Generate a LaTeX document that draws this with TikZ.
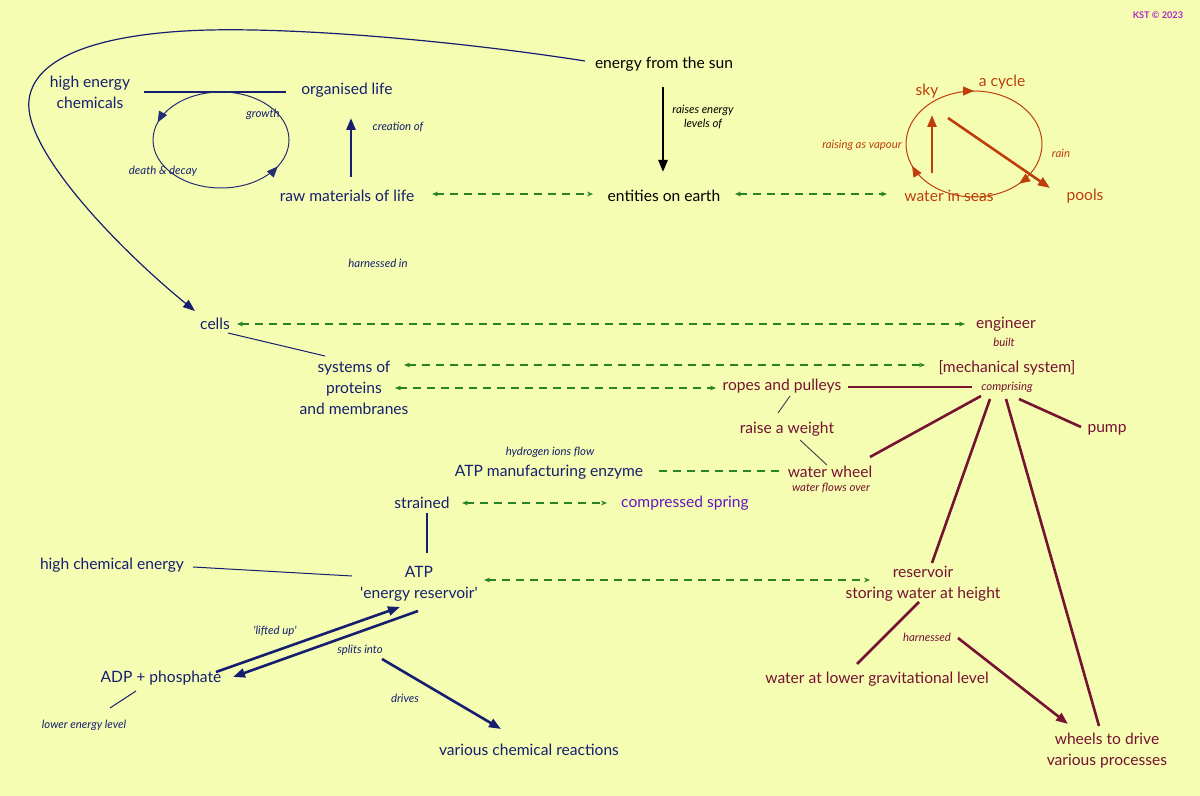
\documentclass[tikz,border=0pt]{standalone}
\usepackage{fontspec}
\setmainfont{Lato}
\usepackage{tikz}
\usetikzlibrary{arrows.meta,decorations.markings}
\definecolor{paleyellow}{RGB}{245,253,178}
\definecolor{lifeblue}{RGB}{22,30,112}
\definecolor{machred}{RGB}{118,18,50}
\definecolor{waterred}{RGB}{190,62,12}
\definecolor{linkgreen}{RGB}{40,130,40}
\definecolor{springviolet}{RGB}{100,22,200}
\definecolor{markpink}{RGB}{175,40,195}

\begin{document}
\begin{tikzpicture}[x=0.5pt,y=-0.5pt,
  txt/.style={font=\fontsize{7.8}{10.5}\selectfont,inner sep=1pt,align=center},
  note/.style={font=\fontsize{5.7}{6.7}\selectfont\itshape,inner sep=1pt,align=center},
  link/.style={linkgreen,line width=0.6pt,dash pattern=on 4pt off 3pt},
  heavy/.style={line width=1.3pt},
  fine/.style={line width=0.5pt},
  tip/.style={-{Triangle[length=6pt,width=4.5pt]}},
  twotip/.style={{Stealth[length=3pt,width=2.4pt]}-{Stealth[length=3pt,width=2.4pt]}}]
 \fill[paleyellow] (0,0) rectangle (1200,796);
 \node[txt,markpink,font=\fontsize{4.6}{5}\selectfont\bfseries] (kst) at (1158,15) {KST © 2023};

 % sun and earth
 \node[txt] (sun) at (664,64) {energy from the sun};
 \node[note] (raises) at (703,117) {raises energy\\levels of};
 \node[txt] (earth) at (664,196) {entities on earth};
 \draw[heavy,tip] ([shift={(-1,23)}]sun.center) -- ([shift={(-1,-24)}]earth.center);

 % life
 \node[txt,lifeblue] (hec) at (90,92) {high energy\\chemicals};
 \node[txt,lifeblue] (life) at (347,90) {organised life};
 \node[note,lifeblue] (growth) at (263,114) {growth};
 \node[note,lifeblue] (decay) at (163,171) {death \& decay};
 \node[txt,lifeblue] (raw) at (347,196) {raw materials of life};
 \node[note,lifeblue] (creation) at (398,127) {creation of};
 \node[note,lifeblue] (harnin) at (378,263) {harnessed in};
 \draw[lifeblue,heavy] ([shift={(54,0)}]hec.center) -- ([shift={(-61,2)}]life.center);
 \draw[lifeblue!85!gray,fine,postaction={decorate},decoration={markings,
   mark=at position 0.08 with {\arrowreversed{Triangle[length=5.5pt,width=4.5pt]}},
   mark=at position 0.55 with {\arrowreversed{Triangle[length=5.5pt,width=4.5pt]}}}]
   (221,140) ellipse [x radius=68,y radius=48];
 \draw[lifeblue,heavy,tip] ([shift={(4,-19)}]raw.center) -- ([shift={(4,28)}]life.center);

 % water cycle
 \node[txt,waterred] (seas) at (949,196) {water in seas};
 \node[txt,waterred] (sky) at (927,91) {sky};
 \node[txt,waterred] (cycle) at (1002,82) {a cycle};
 \node[txt,waterred] (pools) at (1085,196) {pools};
 \node[note,waterred] (vapour) at (862,145) {raising as vapour};
 \node[note,waterred] (rain) at (1061,153) {rain};
 \draw[waterred,fine,postaction={decorate},decoration={markings,
   mark=at position 0.125 with {\arrow{Triangle[length=5.5pt,width=4.5pt]}},
   mark=at position 0.44 with {\arrow{Triangle[length=5.5pt,width=4.5pt]}},
   mark=at position 0.75 with {\arrow{Triangle[length=5.5pt,width=4.5pt]}}}]
   (974,144) ellipse [x radius=68,y radius=53];
 \draw[waterred,heavy,tip] ([shift={(-17,-23)}]seas.center) -- ([shift={(5,24)}]sky.center);
 \draw[waterred,heavy,tip] ([shift={(21,27)}]sky.center) -- ([shift={(-35,-8)}]pools.center);

 \draw[link,twotip] ([shift={(85,-2)}]raw.center) -- ([shift={(-71,-2)}]earth.center);
 \draw[link,twotip] ([shift={(71,-2)}]earth.center) -- ([shift={(-62,-2)}]seas.center);

 % cells and machines
 \node[txt,lifeblue] (cells) at (215,324) {cells};
 \node[txt,machred] (eng) at (1006,324) {engineer};
 \node[note,machred] (built) at (1004,342) {built};
 \node[txt,lifeblue] (prot) at (354,388) {systems of\\proteins\\and membranes};
 \node[txt,machred] (mech) at (1007,368) {[mechanical system]};
 \node[note,machred] (comp) at (1007,387) {comprising};
 \node[txt,machred] (ropes) at (782,386) {ropes and pulleys};
 \node[txt,machred] (weight) at (787,429) {raise a weight};
 \node[txt,machred] (wheel) at (830,472) {water wheel};
 \node[note,machred] (flows) at (831,488) {water flows over};
 \node[txt,machred] (pump) at (1107,430) {pump};
 \node[note,lifeblue] (hions) at (550,452) {hydrogen ions flow};
 \node[txt,lifeblue] (enzyme) at (549,472) {ATP manufacturing enzyme};
 \node[txt,lifeblue] (strained) at (422,503) {strained};
 \node[txt,springviolet] (spring) at (685,503) {compressed spring};

 \draw[lifeblue,line width=0.6pt,-{Triangle[length=6pt,width=4.5pt]}]
   ([shift={(-79,-3)}]sun.center) .. controls (450,40) and (300,28) .. (210,30)
   .. controls (120,32) and (35,50) .. (29,100)
   .. controls (23,150) and (120,250) .. ([shift={(-20,-13)}]cells.center);
 \draw[link,twotip] ([shift={(22,0)}]cells.center) -- ([shift={(-41,0)}]eng.center);
 \draw[lifeblue,fine] ([shift={(13,9)}]cells.center) -- ([shift={(-29,-32)}]prot.center);
 \draw[link,twotip] ([shift={(50,-23)}]prot.center) -- ([shift={(-82,-3)}]mech.center);
 \draw[link,twotip] ([shift={(41,0)}]prot.center) -- ([shift={(-66,2)}]ropes.center);
 \draw[machred,heavy] ([shift={(66,1)}]ropes.center) -- ([shift={(-35,0)}]comp.center);
 \draw[gray!60!black,fine] ([shift={(8,10)}]ropes.center) -- ([shift={(-9,-16)}]weight.center);
 \draw[gray!60!black,fine] ([shift={(13,11)}]weight.center) -- ([shift={(-3,-7)}]wheel.center);
 \draw[machred,heavy] ([shift={(-26,9)}]comp.center) -- ([shift={(40,-15)}]wheel.center);
 \draw[machred,heavy] ([shift={(12,12)}]comp.center) -- ([shift={(-26,-3)}]pump.center);
 \draw[link] ([shift={(110,-1)}]enzyme.center) -- ([shift={(-46,-1)}]wheel.center);
 \draw[link,twotip] ([shift={(40,0)}]strained.center) -- ([shift={(-78,0)}]spring.center);

 % ATP and reservoir
 \node[txt,lifeblue] (hce) at (112,565) {high chemical energy};
 \node[txt,lifeblue] (atp) at (419,584) {ATP\\\textquotesingle energy reservoir\textquotesingle};
 \node[txt,machred] (res) at (923,584) {reservoir\\storing water at height};
 \node[txt,machred] (lower) at (877,679) {water at lower gravitational level};
 \node[txt,machred] (wheels) at (1107,751) {wheels to drive\\various processes};
 \node[note,machred] (harnessed) at (927,637) {harnessed};
 \node[txt,lifeblue] (adp) at (161,678) {ADP + phosphate};
 \node[note,lifeblue] (lowlev) at (84,725) {lower energy level};
 \node[note,lifeblue] (lifted) at (275,631) {\textquotesingle lifted up\textquotesingle};
 \node[note,lifeblue] (splits) at (360,650) {splits into};
 \node[note,lifeblue] (drives) at (405,698) {drives};
 \node[txt,lifeblue] (reactions) at (529,750) {various chemical reactions};

 \draw[machred,heavy] ([shift={(-17,12)}]comp.center) -- ([shift={(9,-21)}]res.center);
 \draw[machred,heavy] ([shift={(-1,12)}]comp.center) -- ([shift={(-8,-25)}]wheels.center);
 \draw[lifeblue,heavy] ([shift={(5,10)}]strained.center) -- ([shift={(8,-31)}]atp.center);
 \draw[lifeblue,fine] ([shift={(81,2)}]hce.center) -- ([shift={(-67,-8)}]atp.center);
 \draw[link,twotip] ([shift={(65,-4)}]atp.center) -- ([shift={(-53,-4)}]res.center);
 \draw[lifeblue,heavy,tip] ([shift={(55,-6)}]adp.center) -- ([shift={(-19,23)}]atp.center);
 \draw[lifeblue,heavy,tip] ([shift={(-1,27)}]atp.center) -- ([shift={(72,-1)}]adp.center);
 \draw[lifeblue,heavy,tip] ([shift={(22,9)}]splits.center) -- ([shift={(-28,-21)}]reactions.center);
 \draw[lifeblue,fine] ([shift={(-25,13)}]adp.center) -- ([shift={(26,-17)}]lowlev.center);
 \draw[machred,heavy] ([shift={(-4,18)}]res.center) -- ([shift={(-20,-15)}]lower.center);
 \draw[machred,heavy,tip] ([shift={(31,1)}]harnessed.center) -- ([shift={(-39,-27)}]wheels.center);
\end{tikzpicture}
\end{document}
